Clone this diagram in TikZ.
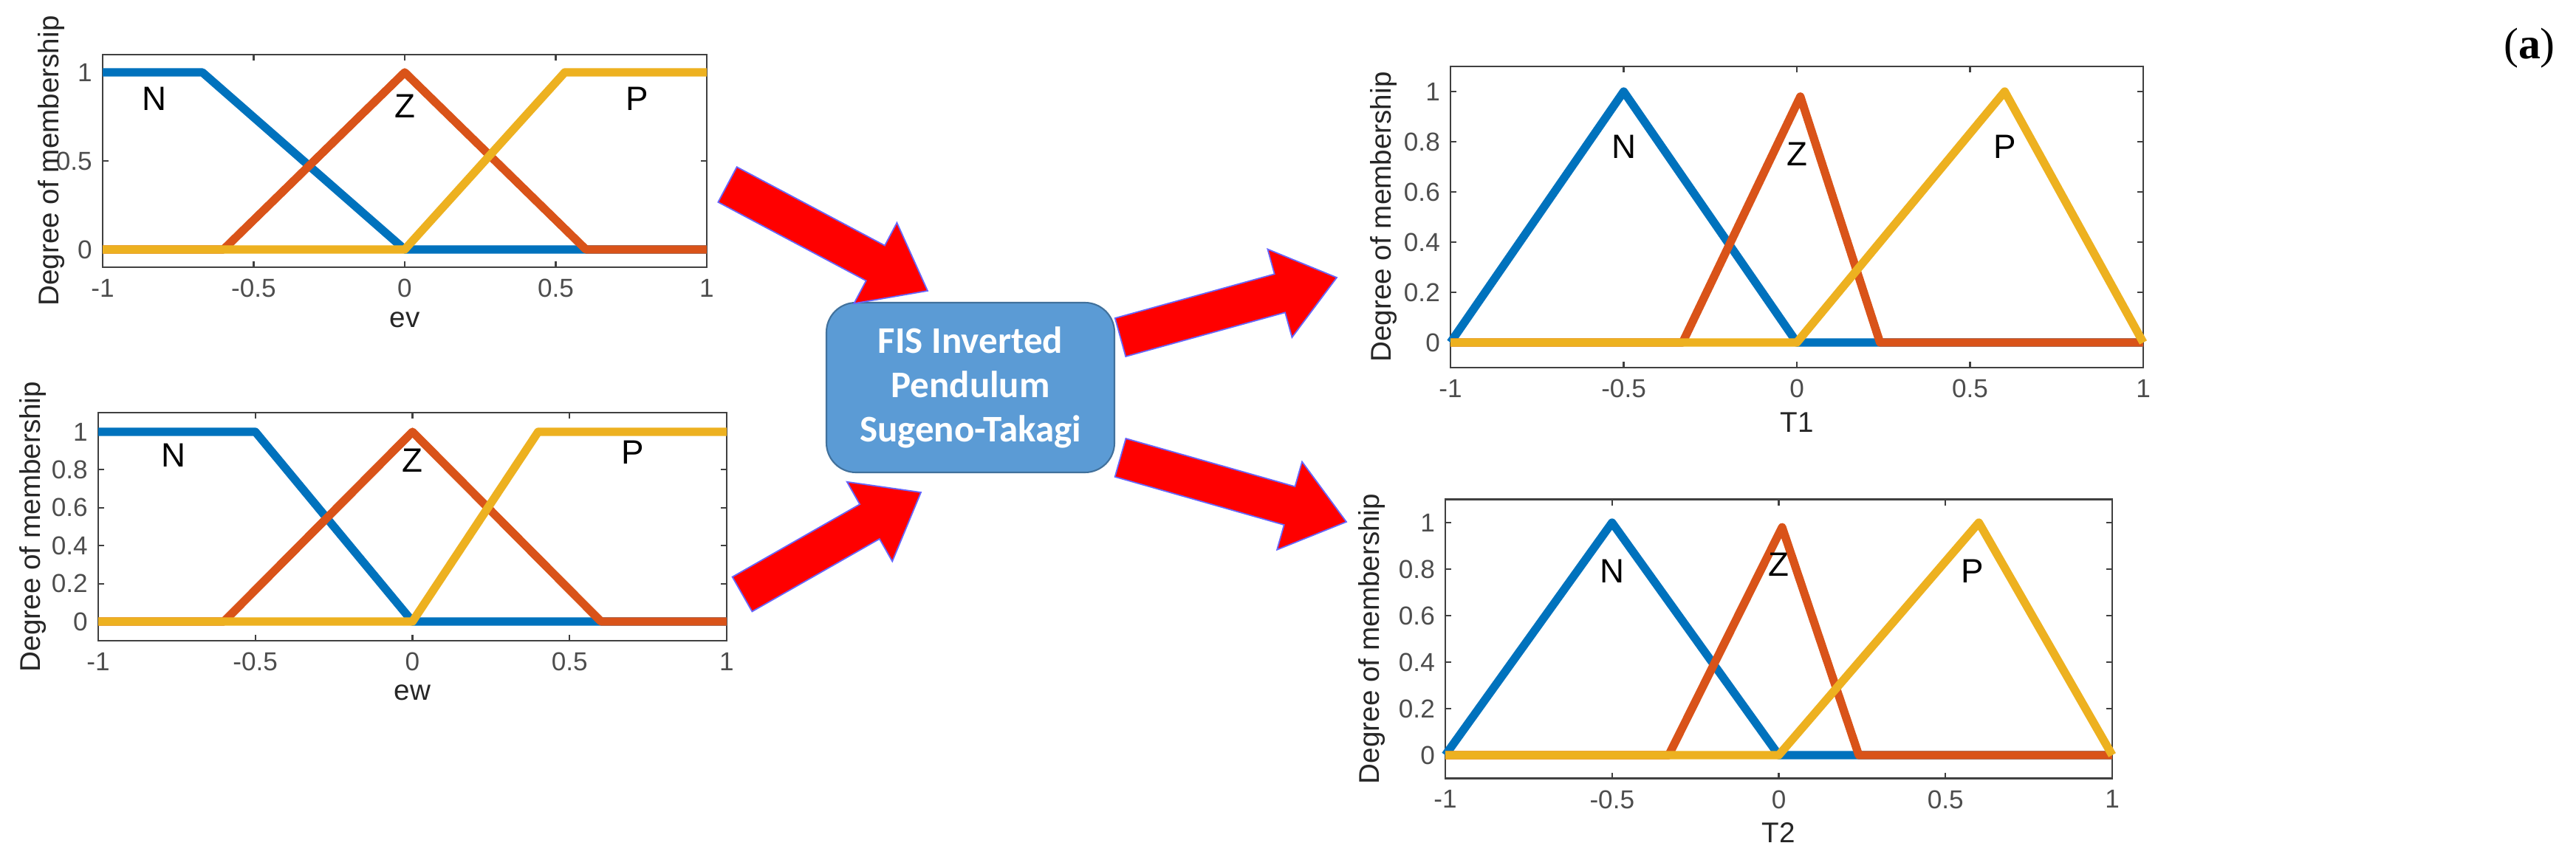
\documentclass[tikz,border=0pt]{standalone}
\usepackage{fontspec}
\setmainfont{Liberation Sans}
\newfontfamily\boxfont{Carlito}
\newfontfamily\serifont{Liberation Serif}
\usetikzlibrary{calc}
\definecolor{mblue}{HTML}{0072BD}
\definecolor{morange}{HTML}{D95319}
\definecolor{myellow}{HTML}{EDB120}
\definecolor{tickgray}{HTML}{4D4D4D}
\definecolor{fisfill}{HTML}{5B9BD5}
\definecolor{fisdraw}{HTML}{41719C}
\tikzset{
  mf/.style={line width=3.2pt, line join=round},
  frame/.style={draw=black!75, line width=0.6pt},
  ticklab/.style={font=\fontsize{10}{11}\selectfont, text=tickgray, inner sep=1pt},
  axlab/.style={font=\fontsize{11}{12}\selectfont, text=black!85},
  mflab/.style={font=\fontsize{13}{15}\selectfont},
  fisbox/.style={draw=fisdraw, fill=fisfill, rounded corners=0.4cm, line width=0.6pt,
    minimum width=3.9cm, minimum height=2.3cm, align=center, text=white,
    font=\boxfont\bfseries\fontsize{14.5}{17}\selectfont},
  redarrow/.style={fill=red, draw=blue!60, line width=0.5pt}
}
\newcommand\blockarrow[2]{%
  \coordinate (hb) at ($(#2)!0.8cm!(#1)$);
  \path[redarrow] ($(#1)!0.27cm!90:(#2)$) -- ($(hb)!0.27cm!-90:(#1)$) -- ($(hb)!0.62cm!-90:(#1)$)
    -- (#2) -- ($(hb)!0.62cm!90:(#1)$) -- ($(hb)!0.27cm!90:(#1)$) -- ($(#1)!0.27cm!-90:(#2)$) -- cycle;}
\newcommand\axesbox[4]{%
  \draw[frame] (-1,-0.1) rectangle (1,1.1);
  \foreach \t in {-1,-0.5,0,0.5,1}{
    \draw[frame] (\t,-0.1) -- ++(0,0.08cm); \draw[frame] (\t,1.1) -- ++(0,-0.08cm);
    \node[ticklab, anchor=north] at ([yshift=-0.12cm]\t,-0.1) {\t};}
  \foreach \t in {#2}{
    \draw[frame] (-1,\t) -- ++(0.08cm,0); \draw[frame] (1,\t) -- ++(-0.08cm,0);
    \node[ticklab, anchor=east] at ([xshift=-0.1cm]-1,\t) {\t};}
  \node[axlab, anchor=north] (#1x) at ([yshift=-0.48cm]0,-0.1) {#3};
  \node[axlab, rotate=90] (#1y) at ([xshift=-#4]-1,0.5) {Degree of membership};}
\begin{document}
\begin{tikzpicture}
\useasboundingbox (0,0) rectangle (34.88,11.6);
% plot ev
\begin{scope}[shift={(5.48,8.22)}, x=4.09cm, y=2.40cm]
  \axesbox{ev}{0,0.5,1}{ev}{0.69cm}
  \draw[mf, mblue] (-1,1) -- (-0.67,1) -- (0,0) -- (1,0);
  \draw[mf, morange] (-1,0) -- (-0.6,0) -- (0,1) -- (0.6,0) -- (1,0);
  \draw[mf, myellow] (-1,0) -- (0,0) -- (0.53,1) -- (1,1);
  \node[mflab] (evN) at (-0.83,0.85) {N};
  \node[mflab] (evZ) at (0,0.81) {Z};
  \node[mflab] (evP) at (0.77,0.85) {P};
\end{scope}
% plot ew
\begin{scope}[shift={(5.585,3.18)}, x=4.255cm, y=2.57cm]
  \axesbox{ew}{0,0.2,0.4,0.6,0.8,1}{ew}{0.88cm}
  \draw[mf, mblue] (-1,1) -- (-0.5,1) -- (0,0) -- (1,0);
  \draw[mf, morange] (-1,0) -- (-0.6,0) -- (0,1) -- (0.6,0) -- (1,0);
  \draw[mf, myellow] (-1,0) -- (0,0) -- (0.4,1) -- (1,1);
  \node[mflab] (ewN) at (-0.76,0.875) {N};
  \node[mflab] (ewZ) at (0,0.85) {Z};
  \node[mflab] (ewP) at (0.70,0.89) {P};
\end{scope}
% plot T1
\begin{scope}[shift={(24.33,6.96)}, x=4.69cm, y=3.40cm]
  \axesbox{ta}{0,0.2,0.4,0.6,0.8,1}{T1}{0.91cm}
  \draw[mf, mblue] (-1,0) -- (-0.5,1) -- (0,0) -- (1,0);
  \draw[mf, morange] (-1,0) -- (-0.33,0) -- (0.01,0.98) -- (0.24,0) -- (1,0);
  \draw[mf, myellow] (-1,0) -- (0,0) -- (0.6,1) -- (1,0);
  \node[mflab] (taN) at (-0.5,0.78) {N};
  \node[mflab] (taZ) at (0,0.75) {Z};
  \node[mflab] (taP) at (0.6,0.78) {P};
\end{scope}
% plot T2
\begin{scope}[shift={(24.085,1.37)}, x=4.515cm, y=3.15cm]
  \axesbox{tb}{0,0.2,0.4,0.6,0.8,1}{T2}{1.0cm}
  \draw[mf, mblue] (-1,0) -- (-0.5,1) -- (0,0) -- (1,0);
  \draw[mf, morange] (-1,0) -- (-0.33,0) -- (0.01,0.98) -- (0.24,0) -- (1,0);
  \draw[mf, myellow] (-1,0) -- (0,0) -- (0.6,1) -- (1,0);
  \node[mflab] (tbN) at (-0.5,0.79) {N};
  \node[mflab] (tbZ) at (0,0.82) {Z};
  \node[mflab] (tbP) at (0.58,0.79) {P};
\end{scope}
% FIS box
\node[fisbox] (fis) at (13.14,6.35) {FIS Inverted\\Pendulum\\Sugeno-Takagi};
% arrows
\coordinate (a1s) at (9.85,9.10);
\coordinate (a1e) at (12.56,7.66);
\coordinate (a2s) at (10.05,3.55);
\coordinate (a2e) at (12.47,4.93);
\coordinate (a3s) at (15.17,7.03);
\coordinate (a3e) at (18.10,7.84);
\coordinate (a4s) at (15.17,5.40);
\coordinate (a4e) at (18.23,4.53);
\blockarrow{a1s}{a1e}
\blockarrow{a2s}{a2e}
\blockarrow{a3s}{a3e}
\blockarrow{a4s}{a4e}
\node[font=\serifont\fontsize{17}{19}\selectfont] (lab) at (34.25,10.95) {(\textbf{a})};
\end{tikzpicture}
\end{document}
